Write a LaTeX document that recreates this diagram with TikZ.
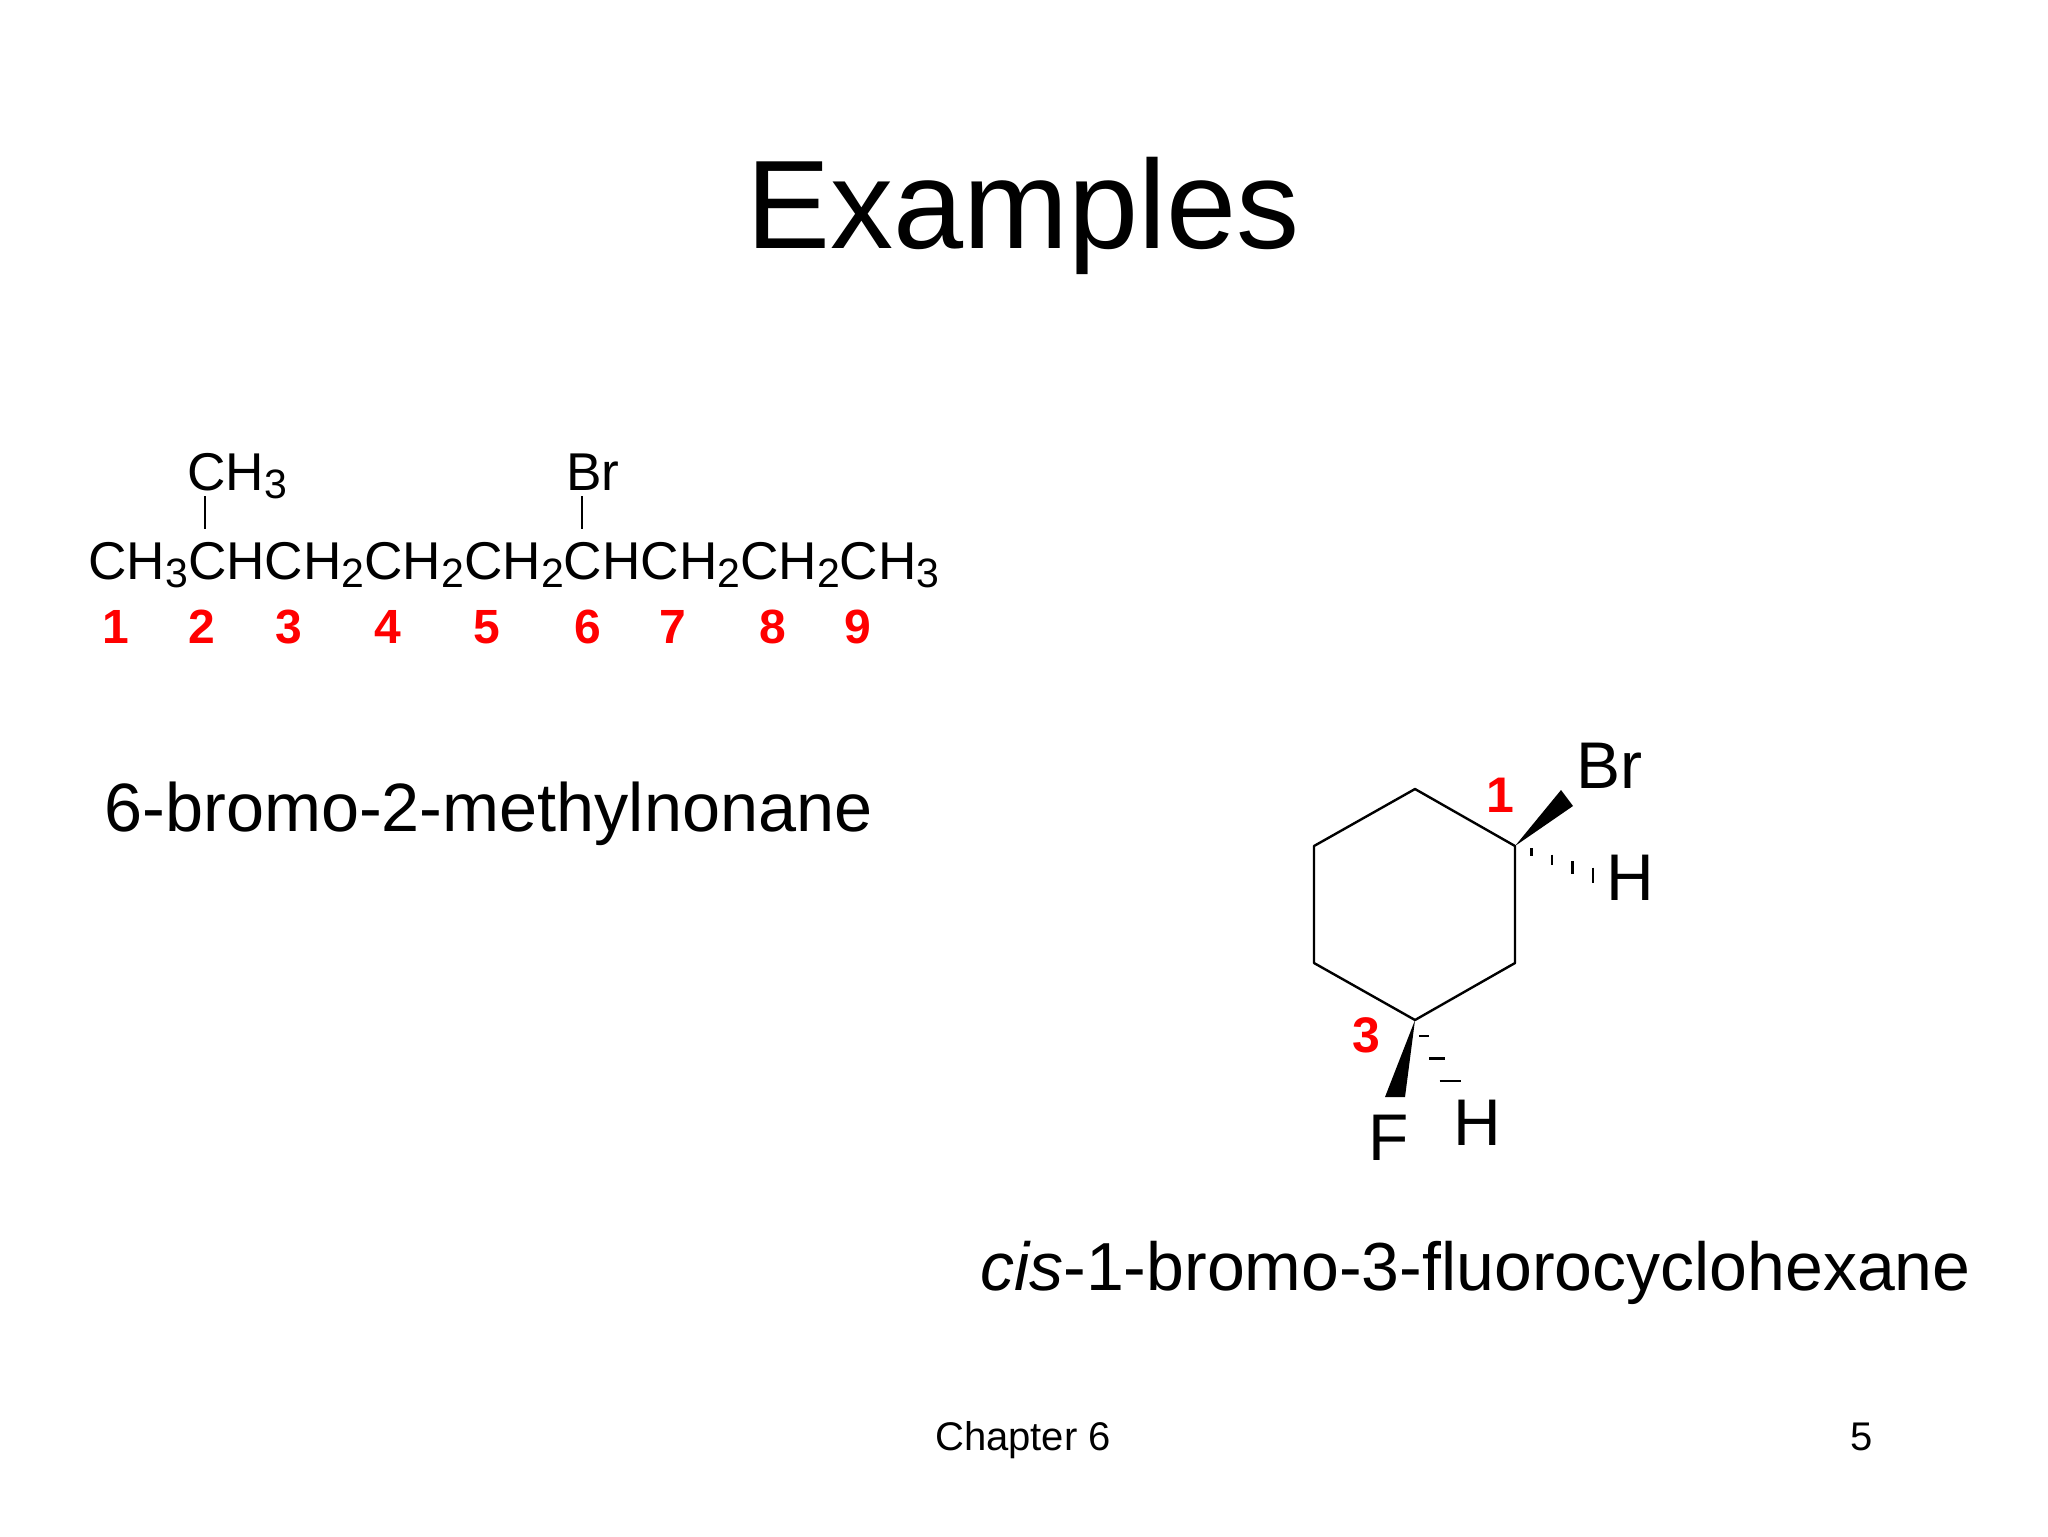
\documentclass[tikz,border=0pt]{standalone}
\usepackage{fontspec}
\setmainfont{Liberation Sans}
\usetikzlibrary{calc}
\newcommand{\sbs}[1]{\raisebox{-0.3ex}{\fontsize{20.5}{20.5}\selectfont #1}}
\begin{document}
\begin{tikzpicture}[x=0.5pt,y=-0.5pt,
  lbl/.style={inner sep=0pt,anchor=base},
  num/.style={inner sep=0pt,anchor=base,text=red,font=\fontsize{24}{24}\selectfont\bfseries},
  bond/.style={line width=1.2pt}]
\useasboundingbox (0,0) rectangle (2048,1536);
\fill[white] (0,0) rectangle (2048,1536);
\node[lbl,font=\fontsize{63}{63}\selectfont] (title) at (1023,248) {Examples};
% condensed formula
\node[lbl,anchor=base west,font=\fontsize{26.6}{26.6}\selectfont] (f) at (88,579) {CH\sbs{3}CHCH\sbs{2}CH\sbs{2}CH\sbs{2}CHCH\sbs{2}CH\sbs{2}CH\sbs{3}};
\node[lbl,anchor=base west,font=\fontsize{26.6}{26.6}\selectfont] (me) at (187,490) {CH\sbs{3}};
\node[lbl,anchor=base west,font=\fontsize{26.6}{26.6}\selectfont] (br1) at (566,490) {Br};
\coordinate (m1) at (205,496); \coordinate (m2) at (205,529);
\coordinate (b1) at (582,496); \coordinate (b2) at (582,529);
\draw[line width=0.6pt] (m1) -- (m2);
\draw[line width=0.6pt] (b1) -- (b2);
\foreach \x/\n in {116/1,202/2,289/3,388/4,487/5,588/6,673/7,773/8,858/9}
  \node[num] (n\n) at (\x,643) {\n};
\node[lbl,anchor=base west,font=\fontsize{34.2}{34.2}\selectfont] (name1) at (104,831) {6-bromo-2-methylnonane};
% cyclohexane
\coordinate (c1) at (1515,846);
\coordinate (c2) at (1515,963);
\coordinate (c3) at (1415,1020);
\coordinate (c4) at (1314,963);
\coordinate (c5) at (1314,846);
\coordinate (c6) at (1415,789);
\draw[bond,line join=round] (c1)--(c2)--(c3)--(c4)--(c5)--(c6)--cycle;
\fill (c1) -- (1561,790) -- (1573,806) -- cycle;
\fill (c3) -- (1385,1097) -- (1405,1097) -- cycle;
\foreach \t in {0.2,0.45,0.7,0.95}
  \draw[line width=1.2pt] ($(c1)!\t!(1597,877)$) ++(0,{-3-5*\t}) -- ++(0,{6+10*\t});
\foreach \t in {0.25,0.6,0.95}
  \draw[line width=1.2pt] ($(c3)!\t!(1452,1084)$) ++({-3-8*\t},0) -- ++({6+16*\t},0);
\node[lbl,anchor=base west,font=\fontsize{33}{33}\selectfont] (Br) at (1576,788) {Br};
\node[lbl,anchor=base west,font=\fontsize{33}{33}\selectfont] (H1) at (1606,900) {H};
\node[lbl,anchor=base west,font=\fontsize{33}{33}\selectfont] (F) at (1368,1160) {F};
\node[lbl,anchor=base west,font=\fontsize{33}{33}\selectfont] (H3) at (1453,1145) {H};
\node[num,font=\fontsize{25}{25}\selectfont\bfseries] (k1) at (1500,812) {1};
\node[num,font=\fontsize{25}{25}\selectfont\bfseries] (k3) at (1366,1052) {3};
\node[lbl,anchor=base west,font=\fontsize{34}{34}\selectfont] (name2) at (980,1290) {\textit{cis}-1-bromo-3-fluorocyclohexane};
\node[lbl,font=\fontsize{20}{20}\selectfont] (ch) at (1023,1450) {Chapter 6};
\node[lbl,font=\fontsize{20}{20}\selectfont] (pg) at (1862,1450) {5};
\end{tikzpicture}
\end{document}
